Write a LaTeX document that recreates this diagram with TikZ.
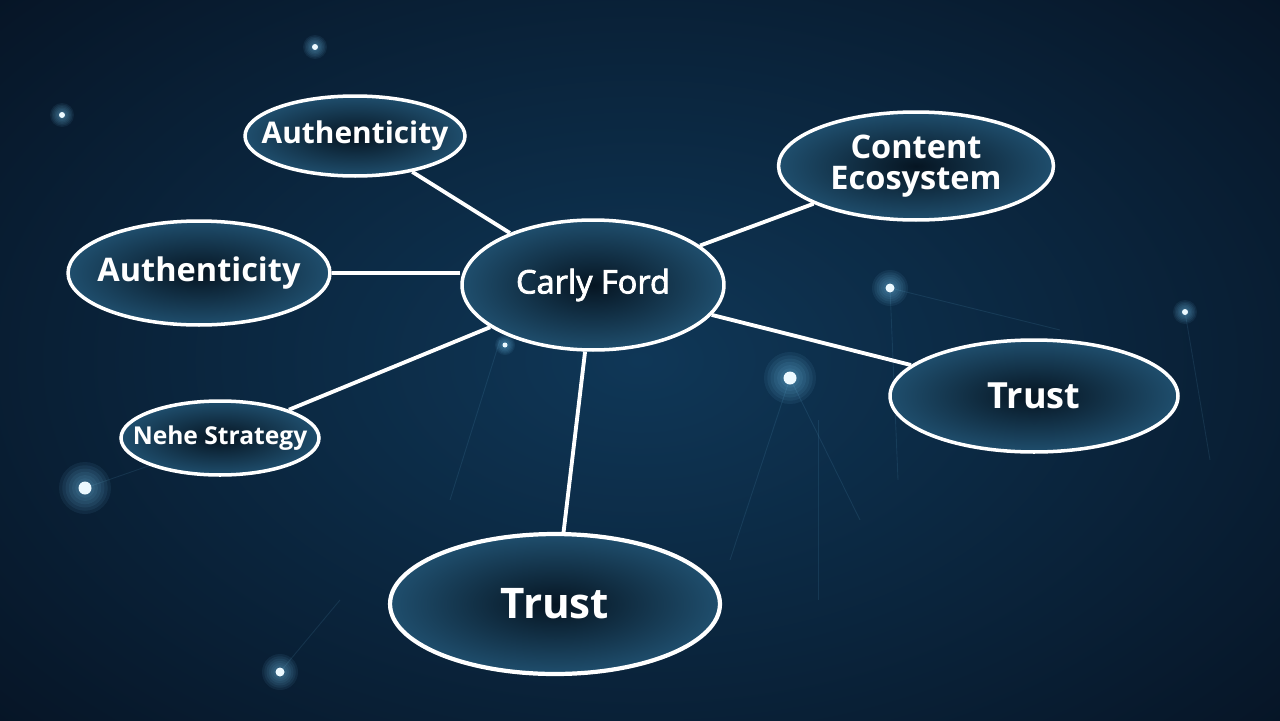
\documentclass[tikz,border=0pt]{standalone}
\usepackage{fontspec}
\setmainfont{Open Sans}
\newfontfamily\semiFont[FakeBold=2.5]{Open Sans}
\usepackage{tikz}
\usetikzlibrary{shapes.geometric}
\definecolor{bgMid}{HTML}{0F3757}
\definecolor{bgEdge}{HTML}{061425}
\definecolor{bubIn}{HTML}{061522}
\definecolor{bubOut}{HTML}{1F4E6D}
\definecolor{glow}{HTML}{7FD4FF}
\newcommand{\glowDot}[3]{
% #1 = x, #2 = y, #3 = radius (px)
\foreach \k in {1,...,8}{
\fill[glow, opacity=0.07] (#1,#2) circle[radius=#3*\k/8*0.02cm];
}
\fill[white!85!glow] (#1,#2) circle[radius=#3*0.25*0.02cm];
}

\begin{document}
\begin{tikzpicture}[x=0.02cm, y=-0.02cm,
    bubble/.style={ellipse, draw=white, line width=2pt, inner sep=0pt,
        inner color=bubIn, outer color=bubOut},
    word/.style={text=white, inner sep=0pt},
    link/.style={draw=white, line width=2.2pt},
    streak/.style={glow, opacity=0.10, line width=0.5pt}]

    % background
    \useasboundingbox (0,0) rectangle (1280,720);
    \shade[inner color=bgMid, outer color=bgEdge] (-250,-200) rectangle (1530,920);

    % faint streaks across the backdrop
    \draw[streak] (790,378) -- (730,560);
    \draw[streak] (790,378) -- (860,520);
    \draw[streak] (890,288) -- (898,480);
    \draw[streak] (890,288) -- (1060,330);
    \draw[streak] (500,340) -- (450,500);
    \draw[streak] (818,420) -- (818,600);
    \draw[streak] (1185,312) -- (1210,460);
    \draw[streak] (85,488) -- (180,455);
    \draw[streak] (280,672) -- (340,600);

    % glowing dots
    \glowDot{85}{488}{26}
    \glowDot{280}{672}{18}
    \glowDot{790}{378}{26}
    \glowDot{890}{288}{18}
    \glowDot{62}{115}{12}
    \glowDot{315}{47}{12}
    \glowDot{1185}{312}{12}
    \glowDot{505}{345}{10}

    % bubbles
    \node[bubble, minimum width=5.24cm, minimum height=2.6cm] (carly) at (593,285) {};
    \node[word, font=\semiFont\fontsize{18.5}{20}\selectfont] (carlyText) at (carly) {Carly Ford};
    \node[bubble, minimum width=4.4cm, minimum height=1.6cm] (authTop) at (355,136) {};
    \node[word, font=\bfseries\fontsize{17}{19}\selectfont] (authTopText) at (authTop) {Authenticity};
    \node[bubble, minimum width=5.24cm, minimum height=2.08cm] (authLeft) at (199,273) {};
    \node[word, font=\bfseries\fontsize{18.5}{20}\selectfont] (authLeftText) at (authLeft) {Authenticity};
    \node[bubble, minimum width=3.96cm, minimum height=1.48cm] (niche) at (220,438) {};
    \node[word, font=\bfseries\fontsize{14}{16}\selectfont] (nicheText) at (niche) {Nehe Strategy};
    \node[bubble, minimum width=5.5cm, minimum height=2.16cm] (content) at (916,166) {};
    \node[word, align=center, font=\bfseries\fontsize{18.5}{18}\selectfont] (contentText) at (content) {Content\\Ecosystem};
    \node[bubble, minimum width=5.76cm, minimum height=2.24cm] (trustR) at (1034,396) {};
    \node[word, font=\bfseries\fontsize{20.5}{22}\selectfont] (trustRText) at (trustR) {Trust};
    \node[bubble, line width=2.4pt, minimum width=6.6cm, minimum height=2.8cm] (trustB) at (555,604) {};
    \node[word, font=\bfseries\fontsize{24}{26}\selectfont] (trustBText) at (trustB) {Trust};

    % spokes from the centre
    \draw[link] (carly) -- (authTop);
    \draw[link] (carly.west |- authLeft) -- (authLeft);
    \draw[link] (carly) -- (niche);
    \draw[link] (carly) -- (content);
    \draw[link] (carly) -- (trustR);
    \draw[link] (carly) -- (trustB);

\end{tikzpicture}
\end{document}
